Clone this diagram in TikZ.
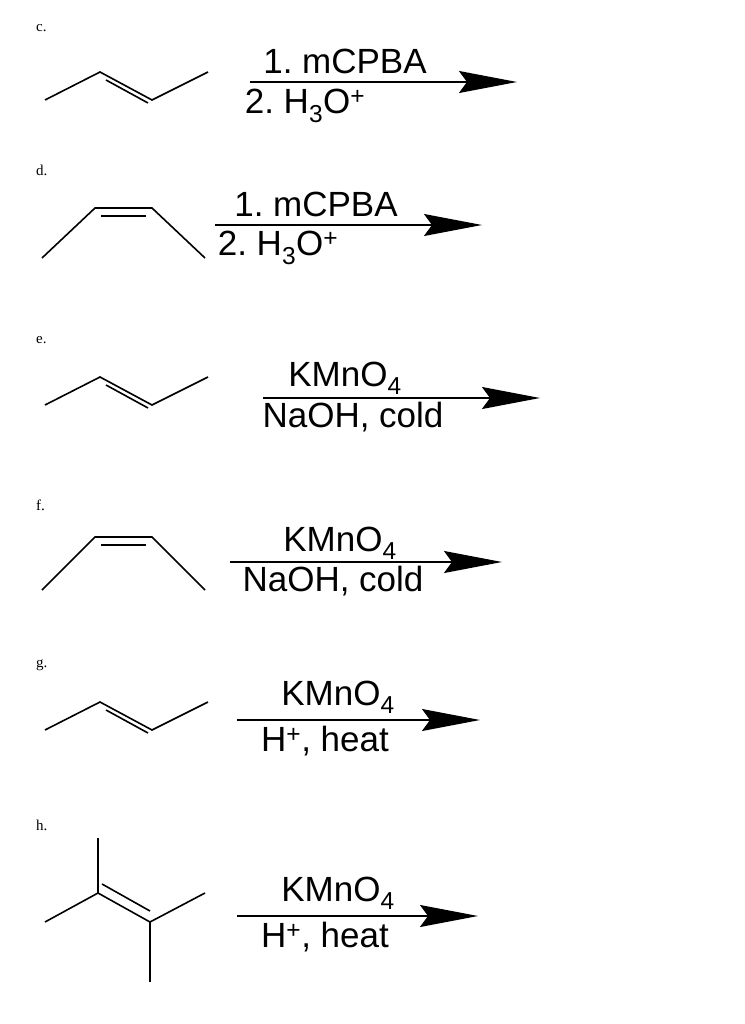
\documentclass[tikz,border=0pt]{standalone}
\usepackage{fontspec}
\setmainfont{Liberation Sans}
\newfontfamily\lbl{Liberation Serif}
\usetikzlibrary{arrows.meta}
\newcommand{\sbs}[1]{\textsubscript{#1}}
\newcommand{\sps}[1]{\textsuperscript{#1}}
\begin{document}
\begin{tikzpicture}[x=1pt,y=-1pt,
  bond/.style={line width=1.6pt},
  rxn/.style={line width=1.6pt,-{Stealth[length=58pt,width=22pt,inset=8pt]}},
  reag/.style={font=\fontsize{35}{35}\selectfont,inner sep=0pt},
  lab/.style={font=\lbl\fontsize{15}{15}\selectfont,inner sep=0pt,anchor=west}]
\useasboundingbox (0,0) rectangle (744,1024);
% c
\node[lab] (lc) at (36,28) {c.};
\draw[bond] (45,100)--(100,72)--(152,100)--(208,72);
\draw[bond] (106,80)--(148,103);
\coordinate (c1) at (250,82); \coordinate (c2) at (517,82);
\draw[rxn] (c1)--(c2);
\node[reag] (c3) at (345,61) {1.\ mCPBA};
\node[reag] (c4) at (305,106) {2.\ H\sbs{3}O\sps{+}};
% d
\node[lab] (ld) at (36,170) {d.};
\draw[bond] (42,258)--(95,208)--(152,208)--(205,258);
\draw[bond] (101,216)--(146,216);
\coordinate (d1) at (215,225); \coordinate (d2) at (482,225);
\draw[rxn] (d1)--(d2);
\node[reag] (d3) at (316,204) {1.\ mCPBA};
\node[reag] (d4) at (278,248) {2.\ H\sbs{3}O\sps{+}};
% e
\node[lab] (le) at (36,340) {e.};
\draw[bond] (45,405)--(100,377)--(152,405)--(208,377);
\draw[bond] (106,385)--(148,408);
\coordinate (e1) at (263,398); \coordinate (e2) at (540,398);
\draw[rxn] (e1)--(e2);
\node[reag] (e3) at (345,378) {KMnO\sbs{4}};
\node[reag] (e4) at (353,417) {NaOH, cold};
% f
\node[lab] (lf) at (36,505) {f.};
\draw[bond] (42,590)--(95,537)--(152,537)--(205,590);
\draw[bond] (101,545)--(146,545);
\coordinate (f1) at (230,562); \coordinate (f2) at (502,562);
\draw[rxn] (f1)--(f2);
\node[reag] (f3) at (340,543) {KMnO\sbs{4}};
\node[reag] (f4) at (333,581) {NaOH, cold};
% g
\node[lab] (lg) at (36,665) {g.};
\draw[bond] (45,730)--(100,702)--(152,730)--(208,702);
\draw[bond] (106,710)--(148,733);
\coordinate (g1) at (237,720); \coordinate (g2) at (480,720);
\draw[rxn] (g1)--(g2);
\node[reag] (g3) at (338,697) {KMnO\sbs{4}};
\node[reag] (g4) at (325,741) {H\sps{+}, heat};
% h
\node[lab] (lh) at (36,825) {h.};
\coordinate (h1) at (98,893); \coordinate (h2) at (150,922);
\draw[bond] (98,838)--(h1)--(45,922);
\draw[bond] (h1)--(h2);
\draw[bond] (h2)--(150,982);
\draw[bond] (h2)--(205,893);
\draw[bond] (102,884)--(150,911);
\coordinate (h3) at (237,916); \coordinate (h4) at (478,916);
\draw[rxn] (h3)--(h4);
\node[reag] (h5) at (338,893) {KMnO\sbs{4}};
\node[reag] (h6) at (325,937) {H\sps{+}, heat};
\end{tikzpicture}
\end{document}
